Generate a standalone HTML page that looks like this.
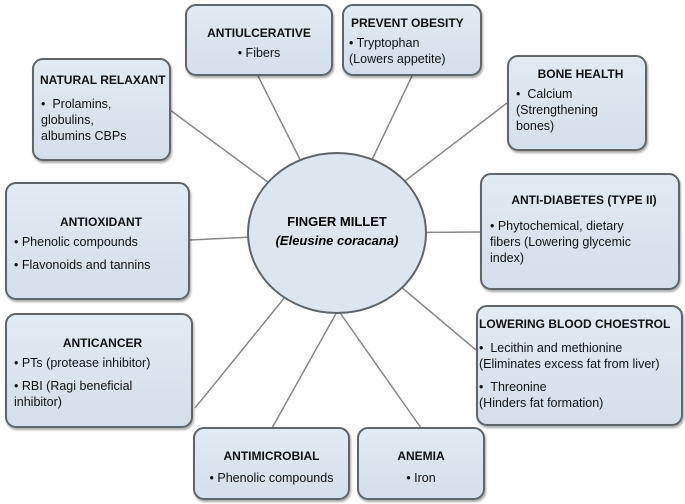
<!DOCTYPE html>
<html><head><style>
body{margin:0;width:685px;height:504px;background:#fff;position:relative;overflow:hidden;font-family:"Liberation Sans",sans-serif;color:#111}
.b{position:absolute;box-sizing:border-box;border:2px solid #5f6568;border-radius:11px;background:linear-gradient(#e2eaf2,#d4dfea);box-shadow:1px 2px 2px rgba(0,0,0,.35);font-size:12.5px;line-height:16px}
.b h{display:block;font-weight:bold;font-size:12px;text-align:center;margin-bottom:4px}
.c{text-align:center}
p{margin:0}
</style></head><body>
<svg width="685" height="504" style="position:absolute;left:0;top:0">
<g stroke="#888" stroke-width="1.5">
<line x1="337" y1="233" x2="258" y2="76"/>
<line x1="337" y1="233" x2="412" y2="76"/>
<line x1="337" y1="233" x2="170" y2="110"/>
<line x1="337" y1="233" x2="507" y2="103"/>
<line x1="337" y1="233" x2="190" y2="240"/>
<line x1="337" y1="233" x2="480" y2="232"/>
<line x1="337" y1="233" x2="195" y2="408"/>
<line x1="337" y1="233" x2="476" y2="350"/>
<line x1="338" y1="310" x2="272" y2="428"/>
<line x1="338" y1="310" x2="421" y2="428"/>
</g>
<ellipse cx="337" cy="233" rx="89" ry="80" fill="#dde6ef" stroke="#5f6568" stroke-width="2"/>
<text x="337" y="226" text-anchor="middle" font-family="Liberation Sans" font-weight="bold" font-size="13">FINGER MILLET</text>
<text x="337" y="245" text-anchor="middle" font-family="Liberation Sans" font-weight="bold" font-style="italic" font-size="13">(Eleusine coracana)</text>
</svg>
<div class="b c" style="left:185px;top:4px;width:148px;height:72px;padding-top:19px"><h>ANTIULCERATIVE</h>• Fibers</div>
<div class="b" style="left:342px;top:4px;width:140px;height:72px;padding:9px 0 0 5px"><h style="text-align:left;margin-left:2px">PREVENT OBESITY</h>• Tryptophan<br>(Lowers appetite)</div>
<div class="b" style="left:32px;top:58px;width:139px;height:103px;padding:12px 0 0 7px"><h style="text-align:left;margin-left:-1px;margin-bottom:8px">NATURAL RELAXANT</h>• &nbsp;Prolamins,<br>globulins,<br>albumins CBPs</div>
<div class="b" style="left:507px;top:55px;width:140px;height:96px;padding:9px 0 0 7px"><h>BONE HEALTH</h>• &nbsp;Calcium<br>(Strengthening<br>bones)</div>
<div class="b" style="left:5px;top:182px;width:185px;height:118px;padding:30px 0 0 7px"><h>ANTIOXIDANT</h><p>• Phenolic compounds</p><p style="margin-top:7px">• Flavonoids and tannins</p></div>
<div class="b" style="left:480px;top:173px;width:200px;height:117px;padding:17px 0 0 8px"><h style="margin-bottom:10px">ANTI-DIABETES (TYPE II)</h>• Phytochemical, dietary<br>fibers (Lowering glycemic<br>index)</div>
<div class="b" style="left:5px;top:313px;width:188px;height:115px;padding:20px 0 0 7px"><h>ANTICANCER</h><p>• PTs (protease inhibitor)</p><p style="margin-top:7px">• RBI (Ragi beneficial<br>inhibitor)</p></div>
<div class="b" style="left:476px;top:305px;width:207px;height:121px;padding:9px 0 0 1px"><h style="text-align:left;margin-bottom:8px">LOWERING BLOOD CHOESTROL</h><p>• &nbsp;Lecithin and methionine<br>(Eliminates excess fat from liver)</p><p style="margin-top:7px">• &nbsp;Threonine<br>(Hinders fat formation)</p></div>
<div class="b c" style="left:193px;top:427px;width:157px;height:73px;padding-top:19px"><h style="margin-bottom:6px">ANTIMICROBIAL</h>• Phenolic compounds</div>
<div class="b c" style="left:357px;top:427px;width:128px;height:73px;padding-top:19px"><h style="margin-bottom:6px">ANEMIA</h>• Iron</div>
</body></html>
